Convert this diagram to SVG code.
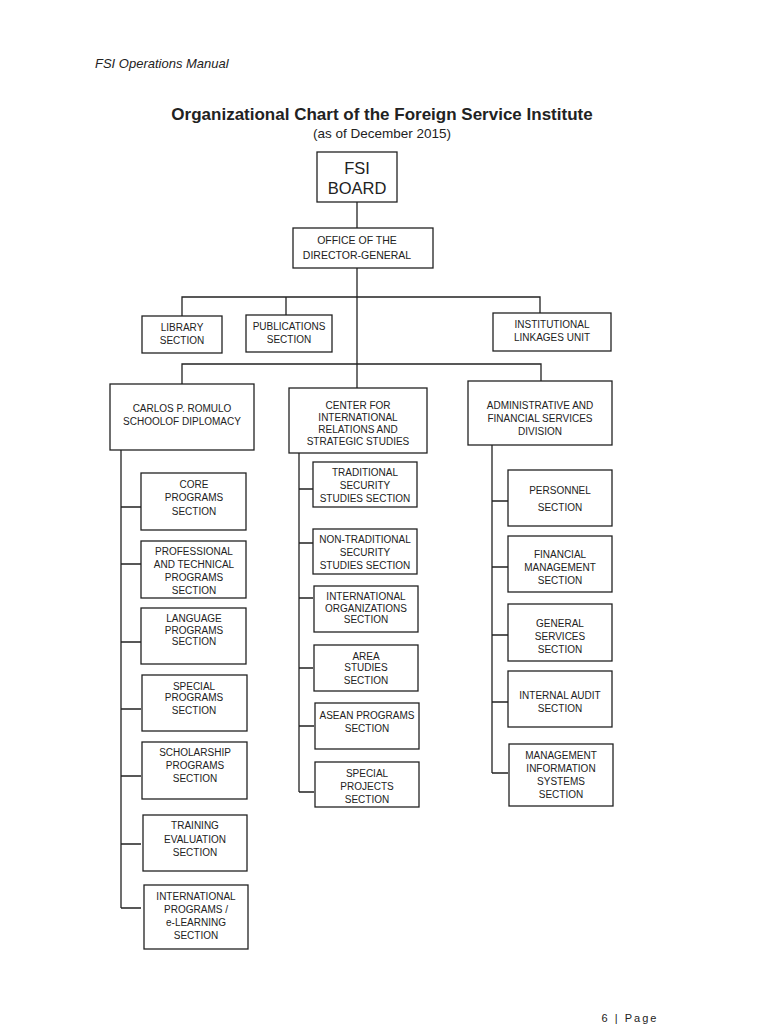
<svg xmlns="http://www.w3.org/2000/svg" width="768" height="1024" viewBox="0 0 768 1024">
<style>
rect{fill:#fff;stroke:#222;stroke-width:1.3}
.c line,.c path{stroke:#222;stroke-width:1.3;fill:none}
text{font-family:"Liberation Sans",Arial,sans-serif;fill:#222;text-anchor:middle;font-size:10px}
.t{font-size:10.5px}
</style>
<rect x="0" y="0" width="768" height="1024" style="stroke:none"/>
<text x="95" y="68" style="text-anchor:start;font-style:italic;font-size:13px">FSI Operations Manual</text>
<text x="382" y="120" style="font-size:17px;font-weight:bold">Organizational Chart of the Foreign Service Institute</text>
<text x="382" y="138" style="font-size:13.5px">(as of December 2015)</text>
<text x="630" y="1022" style="font-size:11px;letter-spacing:2px">6 | Page</text>
<g class="c">
<line x1="357" y1="202" x2="357" y2="228"/>
<line x1="357" y1="268" x2="357" y2="388"/>
<path d="M182 316V297H540V313M286 297V315"/>
<path d="M182 384V364H541V381"/>
<path d="M121 450V908M121 507H141M121 564H141M121 642H141M121 709H141M121 776H141M121 844H141M121 908H141"/>
<path d="M299 453V792M299 489H313M299 543H313M299 598H313M299 668H313M299 726H314M299 792H314"/>
<path d="M492 445V773M492 501H508M492 567H508M492 635H508M492 702H508M492 773H508"/>
</g>
<g id="board"><rect x="317" y="152" width="80" height="50"/><text x="357" y="174" style="font-size:16.5px">FSI</text><text x="357" y="194" style="font-size:16.5px">BOARD</text></g>
<g id="dg"><rect x="293" y="228" width="140" height="40"/><text x="357" y="244" class="t">OFFICE OF THE</text><text x="357" y="259" class="t">DIRECTOR-GENERAL</text></g>
<g id="lib"><rect x="142" y="316" width="80" height="37"/><text x="182" y="331">LIBRARY</text><text x="182" y="344">SECTION</text></g>
<g id="pub"><rect x="246" y="315" width="86" height="37"/><text x="289" y="330">PUBLICATIONS</text><text x="289" y="343">SECTION</text></g>
<g id="inst"><rect x="493" y="313" width="118" height="38"/><text x="552" y="328">INSTITUTIONAL</text><text x="552" y="341">LINKAGES UNIT</text></g>
<g id="crsd"><rect x="110" y="384" width="144" height="66"/><text x="182" y="412">CARLOS P. ROMULO</text><text x="182" y="425">SCHOOLOF DIPLOMACY</text></g>
<g id="cirss"><rect x="289" y="388" width="138" height="65"/><text x="358" y="409">CENTER FOR</text><text x="358" y="421">INTERNATIONAL</text><text x="358" y="433">RELATIONS AND</text><text x="358" y="445">STRATEGIC STUDIES</text></g>
<g id="afsd"><rect x="468" y="381" width="144" height="64"/><text x="540" y="409">ADMINISTRATIVE AND</text><text x="540" y="422">FINANCIAL SERVICES</text><text x="540" y="435">DIVISION</text></g>
<g id="core"><rect x="141" y="473" width="105" height="57"/><text x="194" y="488">CORE</text><text x="194" y="501">PROGRAMS</text><text x="194" y="515">SECTION</text></g>
<g id="prof"><rect x="141" y="541" width="105" height="57"/><text x="194" y="555">PROFESSIONAL</text><text x="194" y="568">AND TECHNICAL</text><text x="194" y="581">PROGRAMS</text><text x="194" y="594">SECTION</text></g>
<g id="lang"><rect x="141" y="608" width="105" height="56"/><text x="194" y="622">LANGUAGE</text><text x="194" y="634">PROGRAMS</text><text x="194" y="645">SECTION</text></g>
<g id="spec"><rect x="142" y="675" width="105" height="56"/><text x="194" y="690">SPECIAL</text><text x="194" y="701">PROGRAMS</text><text x="194" y="714">SECTION</text></g>
<g id="schol"><rect x="142" y="742" width="105" height="57"/><text x="195" y="756">SCHOLARSHIP</text><text x="195" y="769">PROGRAMS</text><text x="195" y="782">SECTION</text></g>
<g id="train"><rect x="143" y="815" width="104" height="56"/><text x="195" y="829">TRAINING</text><text x="195" y="843">EVALUATION</text><text x="195" y="856">SECTION</text></g>
<g id="ipel"><rect x="144" y="885" width="104" height="64"/><text x="196" y="900">INTERNATIONAL</text><text x="196" y="913">PROGRAMS /</text><text x="196" y="926">e-LEARNING</text><text x="196" y="939">SECTION</text></g>
<g id="trad"><rect x="313" y="462" width="104" height="45"/><text x="365" y="476">TRADITIONAL</text><text x="365" y="489">SECURITY</text><text x="365" y="502">STUDIES SECTION</text></g>
<g id="ntrad"><rect x="313" y="529" width="104" height="45"/><text x="365" y="543">NON-TRADITIONAL</text><text x="365" y="556">SECURITY</text><text x="365" y="569">STUDIES SECTION</text></g>
<g id="io"><rect x="314" y="586" width="104" height="46"/><text x="366" y="600">INTERNATIONAL</text><text x="366" y="612">ORGANIZATIONS</text><text x="366" y="623">SECTION</text></g>
<g id="area"><rect x="314" y="645" width="104" height="46"/><text x="366" y="660">AREA</text><text x="366" y="671">STUDIES</text><text x="366" y="684">SECTION</text></g>
<g id="asean"><rect x="315" y="703" width="104" height="46"/><text x="367" y="719">ASEAN PROGRAMS</text><text x="367" y="732">SECTION</text></g>
<g id="sproj"><rect x="315" y="762" width="104" height="45"/><text x="367" y="777">SPECIAL</text><text x="367" y="790">PROJECTS</text><text x="367" y="803">SECTION</text></g>
<g id="pers"><rect x="508" y="470" width="104" height="56"/><text x="560" y="494">PERSONNEL</text><text x="560" y="511">SECTION</text></g>
<g id="fin"><rect x="508" y="536" width="104" height="56"/><text x="560" y="558">FINANCIAL</text><text x="560" y="571">MANAGEMENT</text><text x="560" y="584">SECTION</text></g>
<g id="gen"><rect x="508" y="604" width="104" height="57"/><text x="560" y="627">GENERAL</text><text x="560" y="640">SERVICES</text><text x="560" y="653">SECTION</text></g>
<g id="audit"><rect x="508" y="671" width="104" height="56"/><text x="560" y="699">INTERNAL AUDIT</text><text x="560" y="712">SECTION</text></g>
<g id="mis"><rect x="509" y="744" width="104" height="62"/><text x="561" y="759">MANAGEMENT</text><text x="561" y="772">INFORMATION</text><text x="561" y="785">SYSTEMS</text><text x="561" y="798">SECTION</text></g>
</svg>
